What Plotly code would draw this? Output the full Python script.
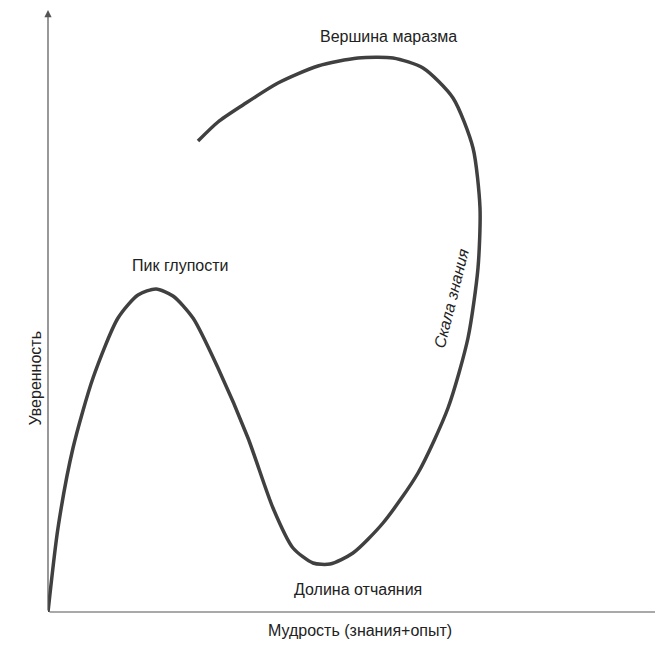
import plotly.graph_objects as go

px = [40,50,65,85,110,130,148,165,185,210,240,265,285,305,322,345,375,410,440,460,470,472,465,445,415,385,350,310,270,235,210,190]
py = [604,520,440,370,310,287,281,288,310,360,430,500,540,555,556,545,515,465,400,330,260,200,140,90,60,50,50,58,75,97,114,133]
curve_x = [p-40 for p in px]
curve_y = [604-p for p in py]

labels = ["Вершина маразма", "Пик глупости", "Скала знания", "Долина отчаяния"]
label_x = [340, 132, 403, 310]
label_y = [576, 347, 314, 23]
label_angle = [0, 0, -76, 0]

fig = go.Figure()
fig.add_trace(go.Scatter(x=curve_x, y=curve_y, mode="lines",
                         line=dict(color="#404040", width=3.5, shape="spline", smoothing=0.7),
                         hoverinfo="skip", cliponaxis=False))
font = dict(family="Liberation Sans Narrow, Liberation Sans, sans-serif", size=16, color="#222")
for t, x, y, a in zip(labels, label_x, label_y, label_angle):
    fig.add_annotation(x=x, y=y, text=t, showarrow=False, textangle=a,
                       font=dict(font, style="italic") if a else font)
fig.add_annotation(x=622, y=0, ax=0, ay=0, xref="x", yref="y", axref="x", ayref="y",
                   showarrow=True, arrowhead=2, arrowsize=1.2, arrowwidth=1.2, arrowcolor="#555", text="")
fig.add_annotation(x=0, y=602, ax=0, ay=0, xref="x", yref="y", axref="x", ayref="y",
                   showarrow=True, arrowhead=2, arrowsize=1.2, arrowwidth=1.2, arrowcolor="#555", text="")
fig.add_annotation(x=312/622, y=-29/602, xref="paper", yref="paper", text="Мудрость (знания+опыт)",
                   showarrow=False, font=font)
fig.add_annotation(x=-24/622, y=234/602, xref="paper", yref="paper", text="Уверенность",
                   showarrow=False, textangle=-90, font=font)

fig.update_layout(width=663, height=645, margin=dict(l=40, r=1, t=2, b=41, autoexpand=False),
                  plot_bgcolor="white", paper_bgcolor="white", showlegend=False,
                  xaxis=dict(range=[0, 622], visible=False, fixedrange=True),
                  yaxis=dict(range=[0, 602], visible=False, fixedrange=True))
fig.write_html("out.html")
